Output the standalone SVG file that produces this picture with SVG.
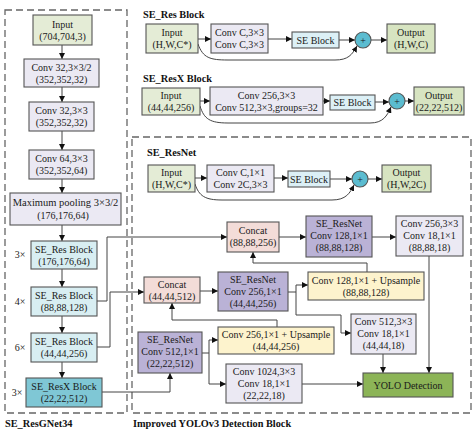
<svg xmlns="http://www.w3.org/2000/svg" width="474" height="429" viewBox="0 0 474 429">
<defs>
<style>
.t{font-family:"Liberation Serif","Times New Roman",serif;font-size:10px;fill:#1a1a1a;text-anchor:middle}
.b{font-family:"Liberation Serif","Times New Roman",serif;font-size:10.3px;font-weight:bold;fill:#111}
.n{stroke:#555;stroke-width:1.1}
.in{fill:#e4ecd6}
.cv{fill:#ebe9f3}
.rb{fill:#d8eef2}
.rx{fill:#7fc7d5}
.se{fill:#dcf0f6}
.out{fill:#d7e4c1}
.cc{fill:#f3dcd8}
.sr{fill:#bab2d6}
.ye{fill:#fdf3cd}
.yo{fill:#8cb457}
.pl{fill:#5bbcd0}
.dash{fill:none;stroke:#666;stroke-width:1.3;stroke-dasharray:7,4}
.c{fill:none;stroke:#444;stroke-width:1}
.a{fill:none;stroke:#444;stroke-width:1;marker-end:url(#ar)}
</style>
<marker id="ar" viewBox="0 0 10 10" refX="10" refY="5" markerWidth="6" markerHeight="6" markerUnits="userSpaceOnUse" orient="auto">
<path d="M0,0 L10,5 L0,10 z" fill="#111"/>
</marker>
</defs>
<rect width="474" height="429" fill="#fff"/>

<g id="frames">
<rect class="dash" x="5" y="10" width="122" height="403"/>
<rect class="dash" x="132" y="137" width="339" height="276"/>
<text class="b" x="5" y="427">SE_ResGNet34</text>
<text class="b" x="133" y="427">Improved YOLOv3 Detection Block</text>
</g>

<g id="connectors">
<path class="a" d="M62,45 V59"/>
<path class="a" d="M62,87 V102"/>
<path class="a" d="M62,131 V150"/>
<path class="a" d="M62,179 V193"/>
<path class="a" d="M62,225 V241"/>
<path class="a" d="M62,269 V287"/>
<path class="a" d="M62,316 V333"/>
<path class="a" d="M62,362 V378"/>
<path class="a" d="M198,39 H211"/>
<path class="a" d="M268,39 H292"/>
<path class="a" d="M339,40 H355"/>
<path class="a" d="M371,40 H387"/>
<path class="a" d="M198,44 C203,58 210,60 228,60 H335 C348,60 352,55 357,46"/>
<path class="a" d="M200,101 H210"/>
<path class="a" d="M323,101 H330"/>
<path class="a" d="M375,102 H389"/>
<path class="a" d="M405,101 H414"/>
<path class="a" d="M200,106 C204,119 210,123 228,123 H370 C383,123 387,116 391,107"/>
<path class="a" d="M195,178 H207"/>
<path class="a" d="M274,178 H288"/>
<path class="a" d="M330,179 H352"/>
<path class="a" d="M368,179 H382"/>
<path class="a" d="M195,184 C199,196 205,200 222,200 H332 C346,200 350,193 354,185"/>
<path class="a" d="M97,301 H107 V237 H227"/>
<path class="a" d="M97,347 H110 V292 H144"/>
<path class="a" d="M102,392 H170 V373"/>
<path class="a" d="M279,237 H306"/>
<path class="a" d="M372,237 H396"/>
<path class="a" d="M429,256 V373"/>
<path class="a" d="M367,272 V263 H253 V252"/>
<path class="a" d="M200,291 H218"/>
<path class="c" d="M288,292 H296 M296,285 V315"/>
<path class="a" d="M296,285 H308"/>
<path class="a" d="M296,315 H341 V333 H351"/>
<path class="a" d="M277,327 V320 H172 V303"/>
<path class="c" d="M202,353 H209 M209,340 V384"/>
<path class="a" d="M209,340 H218"/>
<path class="a" d="M209,384 H226"/>
<path class="a" d="M383,354 V373"/>
<path class="a" d="M302,384 H363"/>
</g>

<g id="n-input"><rect class="n in" x="33" y="15" width="59" height="30"/><text class="t" x="62.5" y="28">Input</text><text class="t" x="62.5" y="40">(704,704,3)</text></g>
<g id="n-conv1"><rect class="n cv" x="24" y="59" width="75" height="28"/><text class="t" x="61.5" y="71">Conv 32,3×3/2</text><text class="t" x="61.5" y="83">(352,352,32)</text></g>
<g id="n-conv2"><rect class="n cv" x="29" y="102" width="65" height="29"/><text class="t" x="61.5" y="114">Conv 32,3×3</text><text class="t" x="61.5" y="126">(352,352,32)</text></g>
<g id="n-conv3"><rect class="n cv" x="29" y="150" width="65" height="29"/><text class="t" x="61.5" y="162">Conv 64,3×3</text><text class="t" x="61.5" y="174">(352,352,64)</text></g>
<g id="n-pool"><rect class="n cv" x="10" y="193" width="111" height="32"/><text class="t" x="65.5" y="206" style="font-size:10.5px">Maximum pooling 3×3/2</text><text class="t" x="63" y="219">(176,176,64)</text></g>
<g id="n-res1"><text class="t" x="20" y="258">3×</text><rect class="n rb" x="31" y="241" width="66" height="28"/><text class="t" x="64" y="253">SE_Res Block</text><text class="t" x="64" y="265">(176,176,64)</text></g>
<g id="n-res2"><text class="t" x="20" y="305">4×</text><rect class="n rb" x="31" y="287" width="66" height="29"/><text class="t" x="64" y="299">SE_Res Block</text><text class="t" x="64" y="311">(88,88,128)</text></g>
<g id="n-res3"><text class="t" x="20" y="351">6×</text><rect class="n rb" x="31" y="333" width="66" height="29"/><text class="t" x="64" y="345">SE_Res Block</text><text class="t" x="64" y="357">(44,44,256)</text></g>
<g id="n-resx"><text class="t" x="17" y="396">3×</text><rect class="n rx" x="26" y="378" width="76" height="29"/><text class="t" x="64" y="390">SE_ResX Block</text><text class="t" x="64" y="402">(22,22,512)</text></g>

<g id="legend-res">
<text class="b" x="143" y="18">SE_Res Block</text>
<g id="r-in"><rect class="n in" x="146" y="24" width="52" height="29"/><text class="t" x="172" y="36">Input</text><text class="t" x="172" y="48">(H,W,C*)</text></g>
<g id="r-conv"><rect class="n cv" x="211" y="24" width="57" height="29"/><text class="t" x="239.5" y="36">Conv C,3×3</text><text class="t" x="239.5" y="48">Conv C,3×3</text></g>
<g id="r-se"><rect class="n se" x="292" y="32" width="47" height="16"/><text class="t" x="315.5" y="43.5">SE Block</text></g>
<g id="r-plus"><circle class="n pl" cx="363" cy="40" r="8"/><text class="t" x="363" y="43.5">+</text></g>
<g id="r-out"><rect class="n out" x="387" y="24" width="48" height="29"/><text class="t" x="411" y="36">Output</text><text class="t" x="411" y="48">(H,W,C)</text></g>
</g>

<g id="legend-resx">
<text class="b" x="143" y="82">SE_ResX Block</text>
<g id="x-in"><rect class="n in" x="142" y="88" width="58" height="27"/><text class="t" x="171" y="99">Input</text><text class="t" x="171" y="111">(44,44,256)</text></g>
<g id="x-conv"><rect class="n cv" x="210" y="87" width="113" height="28"/><text class="t" x="266.5" y="99">Conv 256,3×3</text><text class="t" x="266.5" y="111">Conv 512,3×3,groups=32</text></g>
<g id="x-se"><rect class="n se" x="330" y="95" width="45" height="15"/><text class="t" x="352.5" y="106">SE Block</text></g>
<g id="x-plus"><circle class="n pl" cx="397" cy="101" r="8"/><text class="t" x="397" y="104.5">+</text></g>
<g id="x-out"><rect class="n out" x="414" y="87" width="50" height="28"/><text class="t" x="439" y="99">Output</text><text class="t" x="439" y="111">(22,22,512)</text></g>
</g>

<g id="legend-resnet">
<text class="b" x="147" y="156">SE_ResNet</text>
<g id="s-in"><rect class="n in" x="148" y="165" width="47" height="27"/><text class="t" x="171.5" y="176">Input</text><text class="t" x="171.5" y="188">(H,W,C*)</text></g>
<g id="s-conv"><rect class="n cv" x="207" y="165" width="67" height="27"/><text class="t" x="240.5" y="176">Conv C,1×1</text><text class="t" x="240.5" y="188">Conv 2C,3×3</text></g>
<g id="s-se"><rect class="n se" x="288" y="171" width="42" height="16"/><text class="t" x="309" y="182.5">SE Block</text></g>
<g id="s-plus"><circle class="n pl" cx="360" cy="179" r="8"/><text class="t" x="360" y="182.5">+</text></g>
<g id="s-out"><rect class="n out" x="382" y="165" width="49" height="27"/><text class="t" x="406.5" y="176">Output</text><text class="t" x="406.5" y="188">(H,W,2C)</text></g>
</g>

<g id="n-concat88"><rect class="n cc" x="227" y="222" width="52" height="30"/><text class="t" x="253" y="234">Concat</text><text class="t" x="253" y="246">(88,88,256)</text></g>
<g id="n-sr128"><rect class="n sr" x="306" y="216" width="66" height="41"/><text class="t" x="339" y="227">SE_ResNet</text><text class="t" x="339" y="239">Conv 128,1×1</text><text class="t" x="339" y="251">(88,88,128)</text></g>
<g id="n-c256"><rect class="n cv" x="396" y="216" width="67" height="40"/><text class="t" x="429.5" y="227">Conv 256,3×3</text><text class="t" x="429.5" y="239">Conv 18,1×1</text><text class="t" x="429.5" y="251">(88,88,18)</text></g>
<g id="n-up128"><rect class="n ye" x="308" y="272" width="116" height="28"/><text class="t" x="366" y="284">Conv 128,1×1 + Upsample</text><text class="t" x="366" y="296">(88,88,128)</text></g>
<g id="n-concat44"><rect class="n cc" x="144" y="277" width="56" height="26"/><text class="t" x="172" y="288">Concat</text><text class="t" x="172" y="300">(44,44,512)</text></g>
<g id="n-sr256"><rect class="n sr" x="218" y="272" width="70" height="39"/><text class="t" x="253" y="283">SE_ResNet</text><text class="t" x="253" y="295">Conv 256,1×1</text><text class="t" x="253" y="307">(44,44,256)</text></g>
<g id="n-up256"><rect class="n ye" x="218" y="327" width="116" height="27"/><text class="t" x="276" y="338">Conv 256,1×1 + Upsample</text><text class="t" x="276" y="350">(44,44,256)</text></g>
<g id="n-c512"><rect class="n cv" x="351" y="314" width="65" height="40"/><text class="t" x="383.5" y="325">Conv 512,3×3</text><text class="t" x="383.5" y="337">Conv 18,1×1</text><text class="t" x="383.5" y="349">(44,44,18)</text></g>
<g id="n-sr512"><rect class="n sr" x="138" y="332" width="64" height="41"/><text class="t" x="170" y="343">SE_ResNet</text><text class="t" x="170" y="355">Conv 512,1×1</text><text class="t" x="170" y="367">(22,22,512)</text></g>
<g id="n-c1024"><rect class="n cv" x="226" y="364" width="76" height="39"/><text class="t" x="264" y="375">Conv 1024,3×3</text><text class="t" x="264" y="387">Conv 18,1×1</text><text class="t" x="264" y="399">(22,22,18)</text></g>
<g id="n-yolo"><rect class="n yo" x="363" y="373" width="90" height="24"/><text class="t" x="408" y="388.5">YOLO Detection</text></g>
</svg>
